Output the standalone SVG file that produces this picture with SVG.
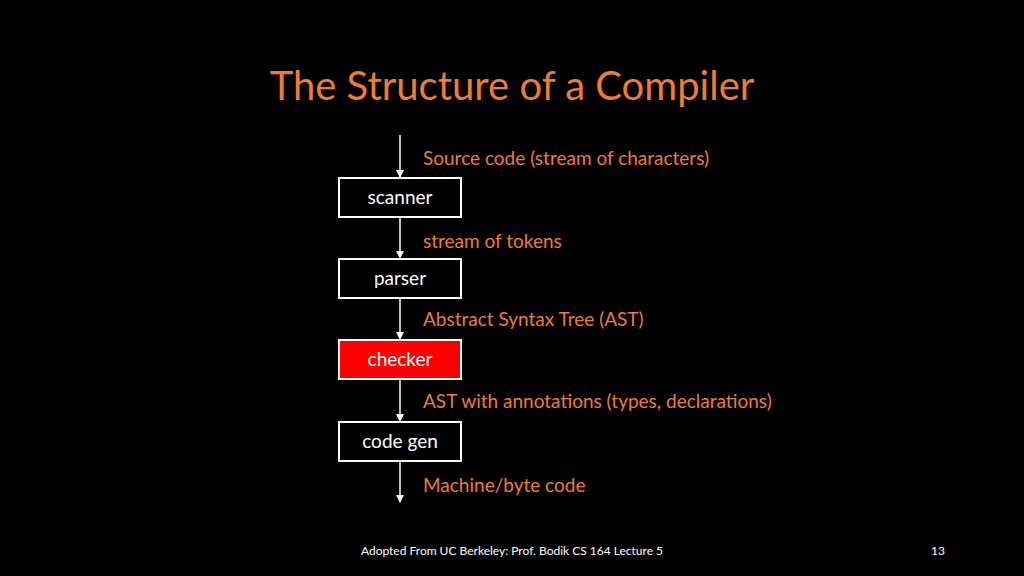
<svg xmlns="http://www.w3.org/2000/svg" width="1024" height="576" viewBox="0 0 1024 576">
<defs>
<marker id="ah" markerWidth="8" markerHeight="8" refX="7" refY="4" orient="auto" markerUnits="userSpaceOnUse"><path d="M0,0 L8,4 L0,8 z" fill="#fff"/></marker>
<style>
.box{fill:#000;stroke:#fff;stroke-width:2}
.nt{font-family:Lato,"Liberation Sans",sans-serif;font-size:19px;fill:#fff;text-anchor:middle}
.lb{font-family:Lato,"Liberation Sans",sans-serif;font-size:19px;fill:#ED7D31}
.cn{stroke:#fff;stroke-width:1.5;fill:none;marker-end:url(#ah)}
</style>
</defs>
<rect width="1024" height="576" fill="#000"/>
<text x="512" y="100" text-anchor="middle" font-family="Lato,'Liberation Sans',sans-serif" font-size="40" fill="#ED7D31">The Structure of a Compiler</text>
<g id="connectors">
<line class="cn" x1="400" y1="135" x2="400" y2="177"/>
<line class="cn" x1="400" y1="218" x2="400" y2="258"/>
<line class="cn" x1="400" y1="299" x2="400" y2="339"/>
<line class="cn" x1="400" y1="380" x2="400" y2="421"/>
<line class="cn" x1="400" y1="462" x2="400" y2="502"/>
</g>
<g id="scanner"><rect class="box" x="339" y="178" width="122" height="39"/><text class="nt" x="400" y="204">scanner</text></g>
<g id="parser"><rect class="box" x="339" y="259" width="122" height="39"/><text class="nt" x="400" y="285">parser</text></g>
<g id="checker"><rect class="box" x="339" y="340" width="122" height="39" style="fill:#FF0000"/><text class="nt" x="400" y="366">checker</text></g>
<g id="codegen"><rect class="box" x="339" y="422" width="122" height="39"/><text class="nt" x="400" y="448">code gen</text></g>
<g id="labels">
<text class="lb" x="423" y="165">Source code (stream of characters)</text>
<text class="lb" x="423" y="248">stream of tokens</text>
<text class="lb" x="423" y="326">Abstract Syntax Tree (AST)</text>
<text class="lb" x="423" y="408">AST with annotations (types, declarations)</text>
<text class="lb" x="423" y="492">Machine/byte code</text>
</g>
<text x="512" y="555" text-anchor="middle" font-family="Lato,'Liberation Sans',sans-serif" font-size="12" fill="#fff">Adopted From UC Berkeley: Prof. Bodik  CS 164  Lecture 5</text>
<text x="945" y="555" text-anchor="end" font-family="Lato,'Liberation Sans',sans-serif" font-size="12" fill="#fff">13</text>
</svg>
